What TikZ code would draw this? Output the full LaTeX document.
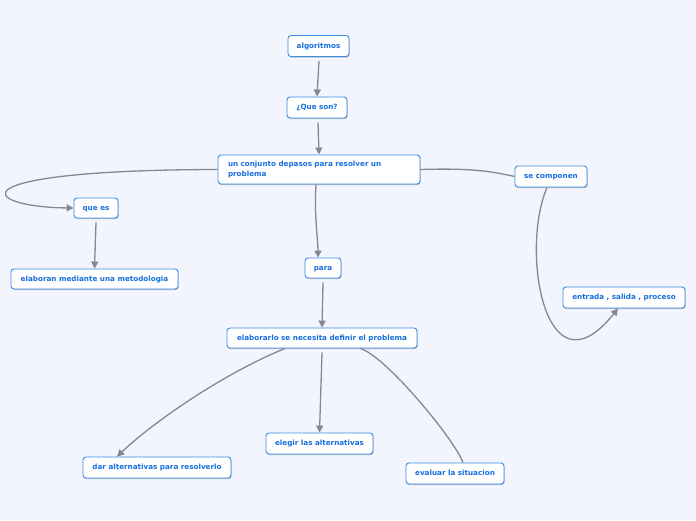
\documentclass[tikz,border=0pt]{standalone}
\usepackage{fontspec}
\setmainfont{DejaVu Sans}
\usetikzlibrary{arrows.meta,shadows}
\definecolor{bgc}{RGB}{242,245,253}
\definecolor{boxblue}{RGB}{58,140,230}
\definecolor{txtblue}{RGB}{22,110,222}
\definecolor{edgegray}{RGB}{136,136,140}
\tikzset{
  box/.style={draw=boxblue, fill=white, rounded corners=3pt, line width=0.9pt,
    text=txtblue, font=\fontsize{7.2}{9.5}\selectfont\bfseries, minimum height=21pt,
    inner xsep=2pt, inner ysep=2pt,
    drop shadow={shadow xshift=0.6pt, shadow yshift=-1pt, opacity=0.25, fill=black}},
  one/.style={box, text height=5.4pt, text depth=1.2pt},
  conn/.style={draw=edgegray, line width=1.3pt},
  arr/.style={conn, -{Triangle[width=7pt,length=7pt]}}
}
\begin{document}
\begin{tikzpicture}[x=1pt,y=-1pt]
\fill[bgc] (0,0) rectangle (696,520);
\useasboundingbox (0,0) rectangle (696,520);
\node[one, minimum width=61pt] (alg) at (318.5,46) {algoritmos};
\node[one, minimum width=60pt] (que) at (317,107.5) {¿Que son?};
\node[box, minimum width=202pt, minimum height=29pt, text width=182pt, align=left, inner xsep=10pt] (conj) at (319,169.5) {un conjunto depasos para resolver un\\problema};
\node[one, minimum width=44pt, minimum height=20pt] (quees) at (96,208) {que es};
\node[one, minimum width=167pt, minimum height=20pt] (elab) at (94.5,279) {elaboran mediante una metodologia};
\node[one, minimum width=72pt] (secomp) at (551,176.5) {se componen};
\node[one, minimum width=122pt] (entr) at (624,297.5) {entrada , salida , proceso};
\node[one, minimum width=36pt, minimum height=20pt] (para) at (323,268) {para};
\node[one, minimum width=190pt, minimum height=20pt] (elabl) at (322,338) {elaborarlo se necesita definir el problema};
\node[one, minimum width=107pt] (eleg) at (319.5,443.5) {elegir las alternativas};
\node[one, minimum width=148pt] (dar) at (157,467.5) {dar alternativas para resolverlo};
\node[one, minimum width=98pt] (eval) at (455,473.5) {evaluar la situacion};

\draw[arr] ([xshift=0.5pt,yshift=-4pt]alg.south) -- (que.north);
\draw[arr] ([xshift=1pt,yshift=-4pt]que.south) -- ([xshift=0pt]conj.north);
\draw[arr] (conj.west) .. controls (-50,170) and (-20,207) .. (quees.west);
\draw[arr] ([yshift=-4pt]quees.south) -- (elab.north);
\draw[conn] (conj.east) .. controls (470,168) and (490,171) .. (secomp.west);
\draw[arr] ([xshift=-4pt]secomp.south) .. controls (520,250) and (545,400) .. ([xshift=-6pt]entr.south);
\draw[arr] ([xshift=-3pt]conj.south) .. controls (314,215) and (318,240) .. ([xshift=-5pt]para.north);
\draw[arr] ([yshift=-4pt]para.south) -- (elabl.north);
\draw[arr] ([xshift=-37pt]elabl.south) .. controls (220,375) and (150,425) .. ([xshift=-40pt]dar.north);
\draw[arr] ([yshift=-4pt]elabl.south) -- (eleg.north);
\draw[conn] ([xshift=38pt]elabl.south) .. controls (385,355) and (455,440) .. ([xshift=8pt]eval.north);
\end{tikzpicture}
\end{document}
